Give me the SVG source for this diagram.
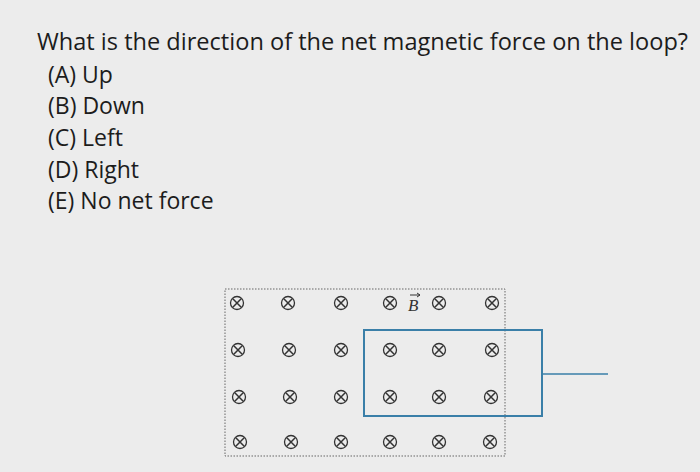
<svg xmlns="http://www.w3.org/2000/svg" width="700" height="472" viewBox="0 0 700 472">
<defs>
<style>
.t{font-family:"Open Sans","Liberation Sans",sans-serif;fill:#1c1c1c}
.q{font-size:23.5px}
.o{font-size:23px}
</style>
<g id="x"><circle r="6.5" fill="none" stroke="#333" stroke-width="1.3"/><path d="M-4.2,-4.2 L4.2,4.2 M-4.2,4.2 L4.2,-4.2" stroke="#333" stroke-width="1.5"/></g>
</defs>
<rect width="700" height="472" fill="#ececec"/>
<g id="question">
<text class="t q" x="37" y="50" textLength="651" lengthAdjust="spacingAndGlyphs">What is the direction of the net magnetic force on the loop?</text>
<text class="t o" x="48" y="83">(A) Up</text>
<text class="t o" x="48" y="114">(B) Down</text>
<text class="t o" x="48" y="146">(C) Left</text>
<text class="t o" x="48" y="178">(D) Right</text>
<text class="t o" x="48" y="209">(E) No net force</text>
</g>
<g id="field">
<rect x="225" y="289" width="280" height="167" fill="none" stroke="#666" stroke-width="1" stroke-dasharray="1.5,1.5"/>
<g id="symbols">
<use href="#x" x="237" y="303"/><use href="#x" x="288" y="303"/><use href="#x" x="341" y="303"/><use href="#x" x="390" y="303"/><use href="#x" x="439" y="303"/><use href="#x" x="492" y="303"/>
<use href="#x" x="238" y="350"/><use href="#x" x="289" y="350"/><use href="#x" x="341" y="350"/><use href="#x" x="390" y="350"/><use href="#x" x="439" y="350"/><use href="#x" x="492" y="350"/>
<use href="#x" x="239" y="397"/><use href="#x" x="290" y="397"/><use href="#x" x="341" y="397"/><use href="#x" x="390" y="397"/><use href="#x" x="439" y="397"/><use href="#x" x="491" y="397"/>
<use href="#x" x="240" y="442"/><use href="#x" x="291" y="442"/><use href="#x" x="341" y="442"/><use href="#x" x="390" y="442"/><use href="#x" x="439" y="442"/><use href="#x" x="490" y="442"/>
</g>
<text x="408" y="311" font-family="Liberation Serif,serif" font-style="italic" font-size="17" fill="#333">B</text>
<path d="M410,295 L420,295 M417,293 L420,295 L417,297" stroke="#333" stroke-width="1" fill="none"/>
</g>
<g id="loop">
<rect x="364" y="330" width="178" height="86" fill="none" stroke="#3a7fa8" stroke-width="2"/>
</g>
<g id="connectors">
<line x1="542" y1="374" x2="608" y2="374" stroke="#3a7fa8" stroke-width="1.5"/>
</g>
</svg>
